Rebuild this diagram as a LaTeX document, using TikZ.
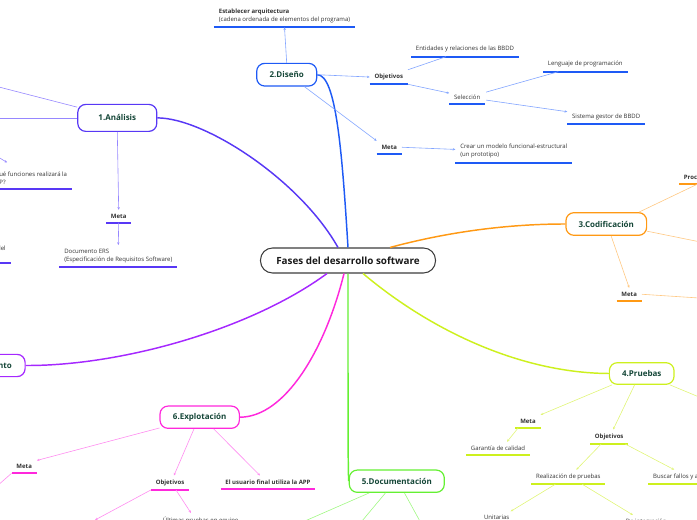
\documentclass[tikz,border=0pt]{standalone}
\usepackage{fontspec}
\setmainfont{Open Sans}
\usetikzlibrary{arrows.meta,calc}

\definecolor{cAna}{RGB}{88,56,245}
\definecolor{cAnaL}{RGB}{150,135,255}
\definecolor{cDis}{RGB}{30,90,245}
\definecolor{cDisL}{RGB}{130,165,255}
\definecolor{cCod}{RGB}{255,153,20}
\definecolor{cCodL}{RGB}{255,200,130}
\definecolor{cPru}{RGB}{205,240,30}
\definecolor{cPruL}{RGB}{225,245,120}
\definecolor{cDoc}{RGB}{100,240,50}
\definecolor{cDocL}{RGB}{160,248,130}
\definecolor{cExp}{RGB}{255,40,220}
\definecolor{cExpL}{RGB}{255,140,240}
\definecolor{cMan}{RGB}{165,40,255}
\definecolor{verdeT}{RGB}{20,70,55}
\definecolor{grisT}{RGB}{50,50,50}
\definecolor{grisB}{RGB}{60,60,60}

\tikzset{
  central/.style={draw=grisB, fill=white, rounded corners=9pt, line width=0.8pt, text=black!90,
    font=\fontsize{7.4}{9}\selectfont\bfseries, minimum width=131.25pt, minimum height=18.75pt},
  fase/.style={draw=#1, fill=white, rounded corners=6pt, line width=0.9pt, text=verdeT,
    font=\fontsize{6}{7.2}\selectfont\bfseries, inner xsep=2pt},
  hoja/.style={text=grisT, font=\fontsize{4.5}{6}\selectfont, inner xsep=3.5pt, inner ysep=3pt, align=left},
  hojab/.style={hoja, font=\fontsize{4.5}{6}\selectfont\bfseries},
  rama/.style={draw=#1, line width=1.1pt},
  enlace/.style={draw=#1, line width=0.45pt, -{Stealth[length=2pt,width=1.8pt]}},
  enlacep/.style={draw=#1, line width=0.45pt},
  subraya/.style={draw=#1, line width=1.4pt}
}

\begin{document}
\begin{tikzpicture}[x=0.75pt,y=0.75pt,yscale=-1,xscale=1]
\path[use as bounding box, clip] (0,0) rectangle (697,520);

%Rounded Rect: central
\node[central] (fases) at (348,260.5) {Fases del desarrollo software};

%Rounded Rect: fases
\node[fase=cAna, minimum width=59.25pt, minimum height=20.25pt] (ana) at (117.3,117.9) {1.Análisis};
\node[fase=cDis, minimum width=45pt, minimum height=17pt] (dis) at (286.7,74.7) {2.Diseño};
\node[fase=cCod, minimum width=60.5pt, minimum height=17pt] (cod) at (606.3,224) {3.Codificación};
\node[fase=cPru, minimum width=48.5pt, minimum height=16.2pt] (pru) at (641.7,373.5) {4.Pruebas};
\node[fase=cDoc, minimum width=71.25pt, minimum height=16.7pt] (doc) at (396.8,481.2) {5.Documentación};
\node[fase=cExp, minimum width=59.5pt, minimum height=16.7pt] (exp) at (199.7,417.2) {6.Explotación};
\node[fase=cMan, minimum height=16.7pt, anchor=east, inner xsep=10pt] (man) at (25.7,365.5) {7.Mantenimiento};

%Curve Lines: ramas
\draw[rama=cAna] ($(fases.north)+(-10,0)$) .. controls (300,180) and (205,118) .. (ana.east);
\draw[rama=cDis] (fases.north) .. controls (342,150) and (336,75) .. (dis.east);
\draw[rama=cCod] ($(fases.north)+(42,0)$) .. controls (440,234) and (500,224) .. (cod.west);
\draw[rama=cPru] ($(fases.south)+(15,0)$) .. controls (430,330) and (520,373) .. (pru.west);
\draw[rama=cDoc] (fases.south) .. controls (348,420) and (348,470) .. (doc.west);
\draw[rama=cExp] ($(fases.south)+(-4,0)$) .. controls (325,350) and (285,417) .. (exp.east);
\draw[rama=cMan] ($(fases.south)+(-21,0)$) .. controls (250,330) and (120,366) .. (man.east);

% Text Node: 1.Análisis
\node[hoja, anchor=south east] (aQue) at (72,188.7) {¿Qué funciones realizará la\\APP?};
\node[hoja, anchor=south east] (aUsu) at (10.7,263) {Usuarios del\\sistema};
\node[hojab, anchor=south] (aMeta) at (118.7,222.7) {Meta};
\node[hoja, anchor=south] (aDoc) at (118.3,267.3) {Documento ERS\\(Especificación de Requisitos Software)};
\coordinate (aOff1) at (-40,77);
\coordinate (aOff2) at (-40,117.9);
\coordinate (aObjOff) at (-30,140);

% Text Node: 2.Diseño
\node[hoja, anchor=south] (dArq) at (284.5,27.3) {\textbf{Establecer arquitectura}\\(cadena ordenada de elementos del programa)};
\node[hojab, anchor=south] (dObj) at (388.8,84.3) {Objetivos};
\node[hoja, anchor=south] (dEnt) at (465,56.7) {Entidades y relaciones de las BBDD};
\node[hoja, anchor=south] (dSel) at (467.2,103.7) {Selección};
\node[hoja, anchor=south] (dLen) at (585.3,71.7) {Lenguaje de programación};
\node[hoja, anchor=south] (dSis) at (606.2,124) {Sistema gestor de BBDD};
\node[hojab, anchor=south] (dMeta) at (389.3,153.7) {Meta};
\node[hoja, anchor=south] (dCre) at (513.8,162.7) {Crear un modelo funcional-estructural\\(un prototipo)};

% Text Node: 3.Codificación
\node[hojab, anchor=south west] (cProc) at (679,184.3) {Procesos};
\node[hojab, anchor=south] (cMeta) at (629.2,300.7) {Meta};
\coordinate (cOff1) at (740,250);
\coordinate (cOff2) at (760,302);

% Text Node: 4.Pruebas
\node[hojab, anchor=south] (pMeta) at (528,427.7) {Meta};
\node[hoja, anchor=south] (pGar) at (498,455) {Garantía de calidad};
\node[hojab, anchor=south] (pObj) at (609.2,444) {Objetivos};
\node[hoja, anchor=south] (pReal) at (568.3,484.3) {Realización de pruebas};
\node[hoja, anchor=south west] (pBus) at (648.3,484.3) {Buscar fallos y arreglarlos};
\node[hoja, anchor=south] (pUni) at (496.7,524.3) {Unitarias};
\node[hoja, anchor=south west] (pInt) at (621,529.6) {De integración};
\coordinate (pOff) at (740,414);

% Text Node: 5.Documentación
\coordinate (do1) at (250,545);
\coordinate (do2) at (342,545);
\coordinate (do3) at (433,545);

% Text Node: 6.Explotación
\node[hojab, anchor=south] (eMeta) at (24.2,473.3) {Meta};
\node[hojab, anchor=south] (eObj) at (170,490) {Objetivos};
\node[hojab, anchor=south] (eUsu) at (268,488.7) {El usuario final utiliza la APP};
\node[hoja, anchor=south west] (eUlt) at (158,528.6) {Últimas pruebas en equipo};
\coordinate (eOff1) at (-20,501);
\coordinate (eOff2) at (95,520);

%Straight Lines: subrayados
\foreach \n/\c in {aQue/cAna, aUsu/cAna, aMeta/cAna, aDoc/cAna,
    dArq/cDis, dObj/cDis, dEnt/cDis, dSel/cDis, dLen/cDis, dSis/cDis, dMeta/cDis, dCre/cDis,
    cProc/cCod, cMeta/cCod,
    pMeta/cPru, pGar/cPru, pObj/cPru, pReal/cPru, pBus/cPru, pUni/cPru, pInt/cPru,
    eMeta/cExp, eObj/cExp, eUsu/cExp, eUlt/cExp}
  \draw[subraya=\c] (\n.south west) -- (\n.south east);

%Straight Lines: 1.Análisis
\draw[enlacep=cAnaL] (ana.165) -- (aOff1);
\draw[enlacep=cAnaL] (ana.west) -- (aOff2);
\draw[enlace=cAnaL] (aObjOff) -- ($(aQue.north west)+(20,-5)$);
\draw[enlace=cAnaL] (ana.south) -- (aMeta.north);
\draw[enlace=cAnaL] (aMeta.south) -- (aDoc.north);

%Straight Lines: 2.Diseño
\draw[enlace=cDisL] (dis.north) -- (dArq.south);
\draw[enlace=cDisL] (dis.east) -- (dObj.west);
\draw[enlacep=cDisL] (dObj.north east) -- ($(dEnt.south)+(-19,0)$);
\draw[enlace=cDisL] (dObj.south east) -- ($(dSel.west)+(0,-4)$);
\draw[enlacep=cDisL] ($(dSel.east)+(1,-5)$) -- ($(dLen.south)+(-27,0)$);
\draw[enlace=cDisL] ($(dSel.east)+(1,3)$) -- ($(dSis.west)+(0,-5)$);
\draw[enlace=cDisL] (dis.-34) -- (dMeta.north west);
\draw[enlace=cDisL] (dMeta.east) -- ($(dCre.west)+(0,-2)$);

%Straight Lines: 3.Codificación
\draw[enlacep=cCodL] (cod.20) -- (cProc.south);
\draw[enlacep=cCodL] (cod.-10) -- (cOff1);
\draw[enlace=cCodL] (cod.-68) -- (cMeta.north);
\draw[enlacep=cCodL] (cMeta.east) -- (cOff2);

%Straight Lines: 4.Pruebas
\draw[enlacep=cPruL] (pru.-22) -- (pOff);
\draw[enlace=cPruL] (pru.-159) -- (pMeta.north east);
\draw[enlace=cPruL] (pru.-122) -- ($(pObj.north)+(4,0)$);
\draw[enlace=cPruL] ($(pMeta.south west)+(3,0)$) -- ($(pGar.north)+(9,0)$);
\draw[enlace=cPruL] ($(pObj.south)+(-8,0)$) -- ($(pReal.north)+(8,0)$);
\draw[enlace=cPruL] ($(pObj.south)+(16,0)$) -- ($(pBus.north west)+(26,0)$);
\draw[enlace=cPruL] ($(pReal.south)+(-13,0)$) -- ($(pUni.north)+(14,0)$);
\draw[enlace=cPruL] ($(pReal.south)+(14,0)$) -- ($(pInt.north west)+(12,0)$);

%Straight Lines: 5.Documentación
\draw[enlacep=cDocL] (doc.-157) -- (do1);
\draw[enlacep=cDocL] (doc.-134) -- (do2);
\draw[enlacep=cDocL] (doc.-57) -- (do3);

%Straight Lines: 6.Explotación
\draw[enlace=cExpL] (exp.-165) -- (eMeta.north east);
\draw[enlacep=cExpL] (eMeta.south west) -- (eOff1);
\draw[enlace=cExpL] (exp.-116) -- ($(eObj.north)+(4,0)$);
\draw[enlace=cExpL] (exp.-40) -- ($(eUsu.north)+(-8,0)$);
\draw[enlace=cExpL] (eObj.south west) -- (eOff2);
\draw[enlace=cExpL] ($(eObj.south)+(6,0)$) -- ($(eUlt.north west)+(33,0)$);

\end{tikzpicture}
\end{document}
